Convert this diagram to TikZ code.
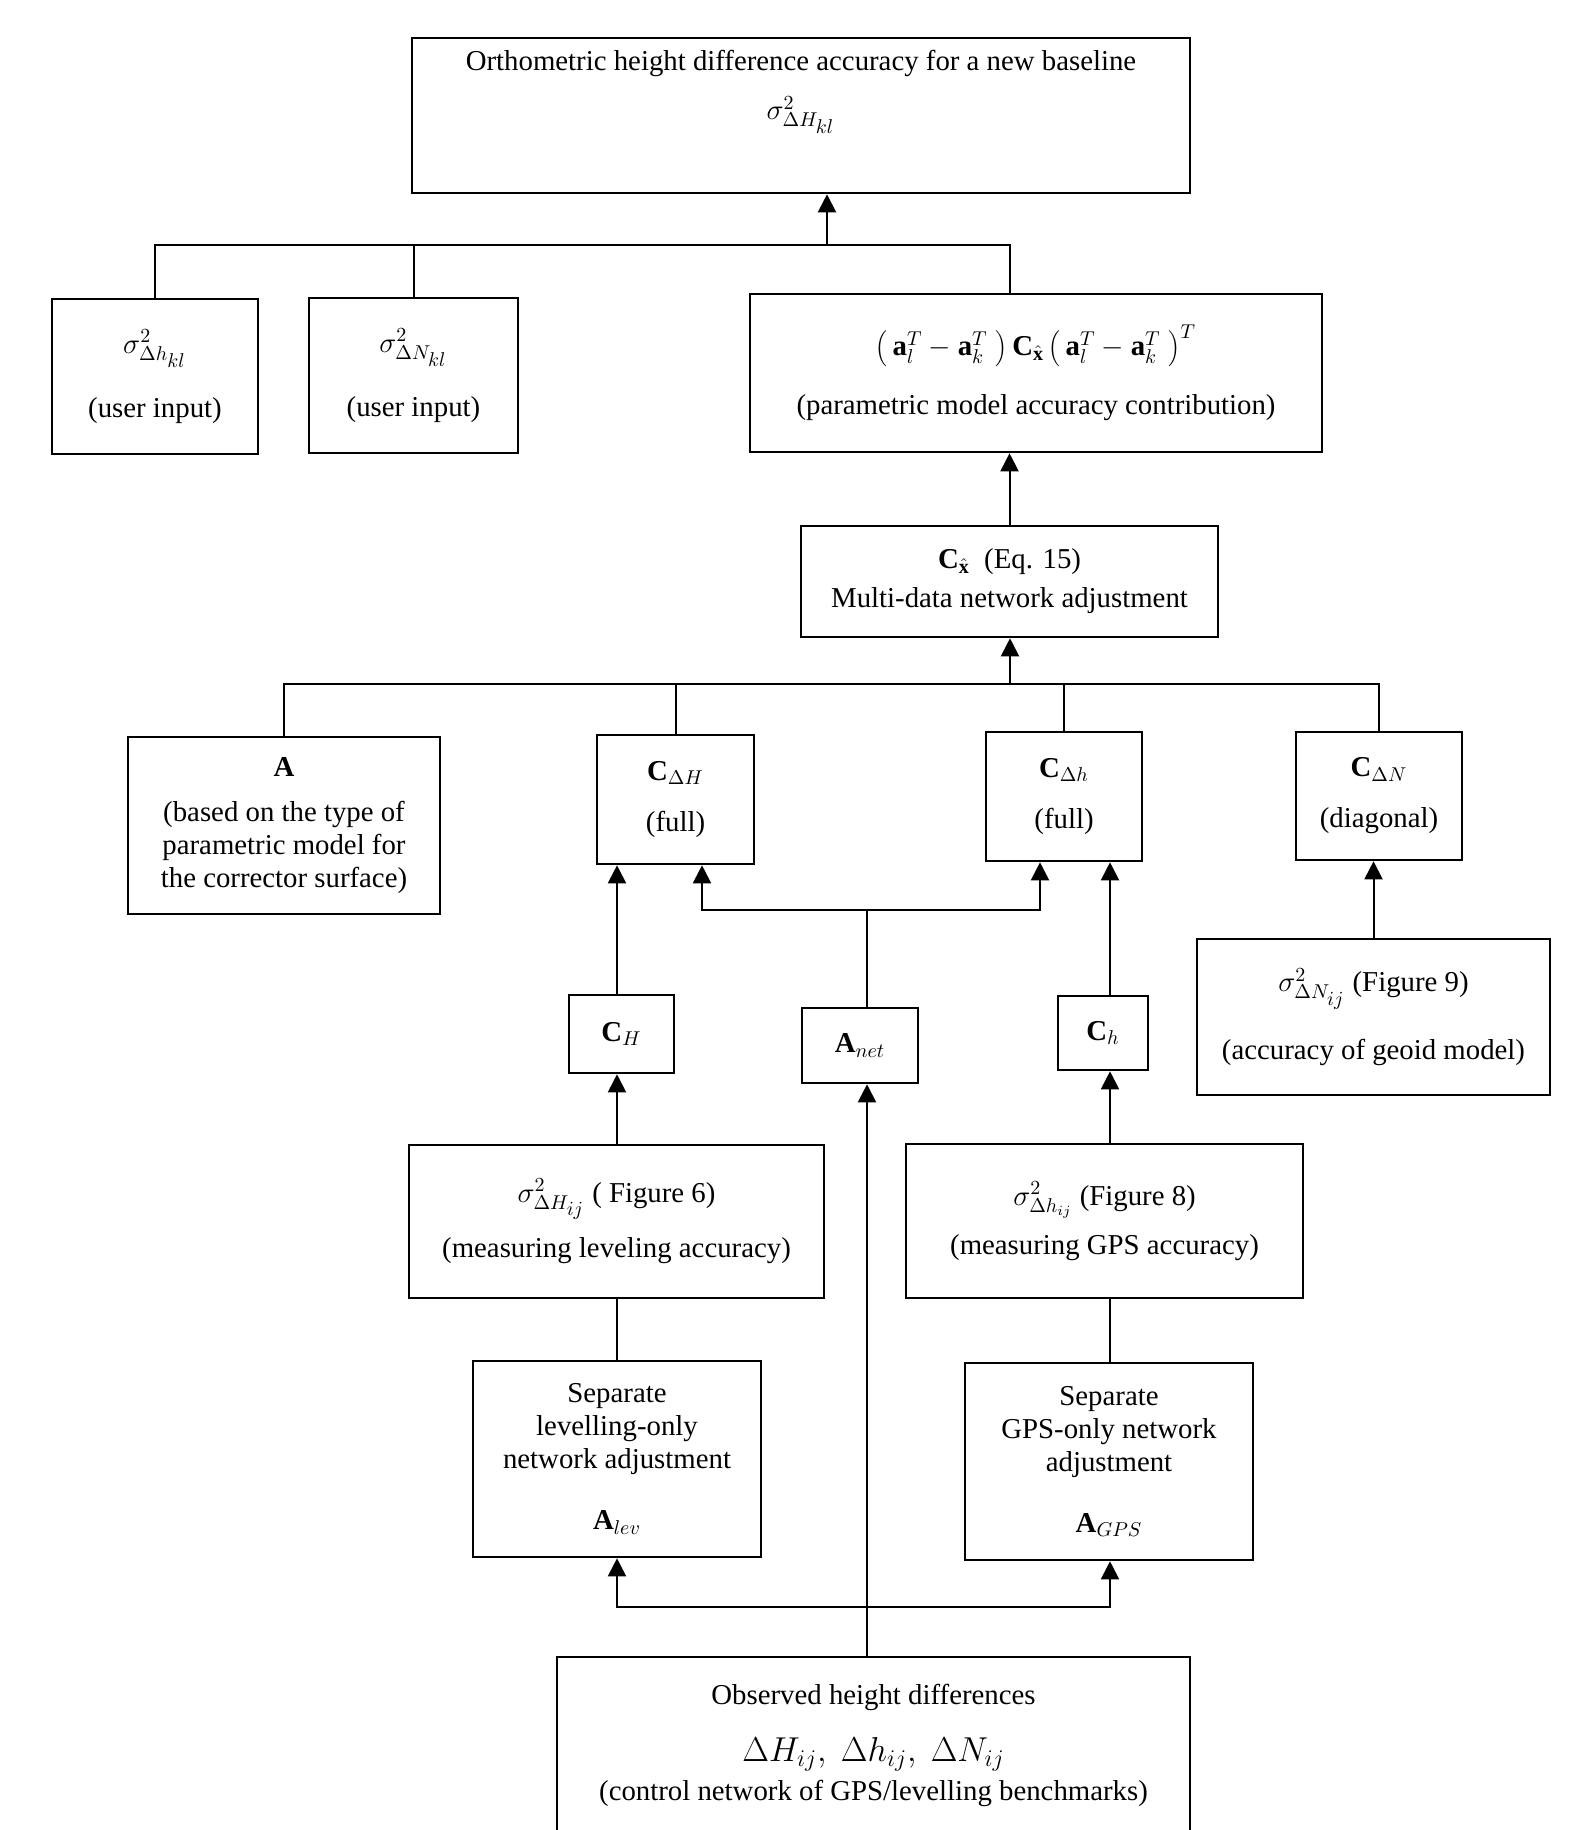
\documentclass[tikz,border=0pt]{standalone}
\usepackage{fontspec}
\setmainfont{Liberation Serif}
\usetikzlibrary{arrows.meta}

\begin{document}
\begin{tikzpicture}[x=0.5pt, y=-0.5pt, >={Triangle[length=9pt,width=9pt]},
  box/.style={draw, line width=1.3pt, align=center, inner sep=2pt, font=\fontsize{14.4}{16.5}\selectfont},
  txt/.style={align=center, inner sep=0pt, font=\fontsize{14.4}{16.5}\selectfont},
  every path/.style={line width=1pt}]
\useasboundingbox (0,0) rectangle (1577,1830);
%
\draw (801,115.5) node[box, minimum width=389pt, minimum height=77.5pt] (ortho) {};
\draw (801,92) node[txt] (orthotext) {Orthometric height difference accuracy for a new baseline\\[8pt]$\sigma^2_{\Delta H_{\scriptstyle kl}}$};
%
\draw (155,376.5) node[box, minimum width=103pt, minimum height=77.5pt] (sighkl) {$\sigma^2_{\Delta h_{\scriptstyle kl}}$\\[14pt](user input)};
\draw (413.5,375.5) node[box, minimum width=104.5pt, minimum height=77.5pt] (signkl) {$\sigma^2_{\Delta N_{\scriptstyle kl}}$\\[14pt](user input)};
\draw (1036,373) node[box, minimum width=286pt, minimum height=79pt] (param) {$\left(\,\mathbf{a}_l^T - \mathbf{a}_k^T\;\right)\mathbf{C}_{\hat{\mathbf{x}}}\left(\,\mathbf{a}_l^T - \mathbf{a}_k^T\;\right)^T$\\[13pt](parametric model accuracy contribution)};
%
\draw (1009.5,581.5) node[box, minimum width=208.5pt, minimum height=55.5pt] (cxhat) {$\mathbf{C}_{\hat{\mathbf{x}}}$\ \ (Eq. 15)\\[3pt]Multi-data network adjustment};
%
\draw (284,825.5) node[box, minimum width=156pt, minimum height=88.5pt] (amodel) {$\mathbf{A}$\\[6pt](based on the type of\\parametric model for\\the corrector surface)};
\draw (675.5,799.5) node[box, minimum width=78.5pt, minimum height=64.5pt] (cdH) {$\mathbf{C}_{\Delta H}$\\[9pt](full)};
\draw (1064,796.5) node[box, minimum width=78pt, minimum height=64.5pt] (cdh) {$\mathbf{C}_{\Delta h}$\\[9pt](full)};
\draw (1379,796) node[box, minimum width=83pt, minimum height=64pt] (cdN) {$\mathbf{C}_{\Delta N}$\\[9pt](diagonal)};
%
\draw (621.5,1034) node[box, minimum width=52.5pt, minimum height=39pt] (cH) {$\mathbf{C}_H$};
\draw (860,1045.5) node[box, minimum width=58pt, minimum height=37.5pt] (anet) {$\mathbf{A}_{net}$};
\draw (1103,1033) node[box, minimum width=45pt, minimum height=37pt] (ch) {$\mathbf{C}_h$};
\draw (1373.5,1017) node[box, minimum width=176.5pt, minimum height=78pt] (signij) {$\sigma^2_{\Delta N_{\scriptstyle ij}}$ (Figure 9)\\[14pt](accuracy of geoid model)};
%
\draw (616.5,1221.5) node[box, minimum width=207.5pt, minimum height=76.5pt] (sigHij) {$\sigma^2_{\Delta H_{\scriptstyle ij}}$ ( Figure 6)\\[8pt](measuring leveling accuracy)};
\draw (1104.5,1221) node[box, minimum width=198.5pt, minimum height=77pt] (sighij) {$\sigma^2_{\Delta h_{ij}}$ (Figure 8)\\[8pt](measuring GPS accuracy)};
%
\draw (617,1459) node[box, minimum width=144pt, minimum height=98pt] (lev) {Separate\\levelling-only\\network adjustment\\[14pt]$\mathbf{A}_{lev}$};
\draw (1109,1461.5) node[box, minimum width=144pt, minimum height=98.5pt] (gps) {Separate\\GPS-only network\\adjustment\\[14pt]$\mathbf{A}_{GPS}$};
%
\draw (873.5,1745) node[box, minimum width=316.5pt, minimum height=88pt] (obs) {Observed height differences\\[12pt]{\fontsize{17}{20}\selectfont $\Delta H_{ij},\ \Delta h_{ij},\ \Delta N_{ij}$}\\[3pt](control network of GPS/levelling benchmarks)};
%
\coordinate (jtop) at (827,245);
\coordinate (jmid) at (1010,684);
\coordinate (jnet) at (867,910);
\coordinate (jobs) at (867,1607);
\coordinate (colH) at (617,0);
\coordinate (colh) at (1110,0);
\coordinate (colHnet) at (702,0);
\coordinate (colhnet) at (1040,0);
%
\path[draw] (sighkl.north) |- (jtop) -| (param.north -| cxhat.north);
\path[draw] (signkl.north) -- (signkl.north |- jtop);
\path[draw, ->] (jtop) -- (jtop |- ortho.south);
\path[draw, ->] (cxhat.north) -- (cxhat.north |- param.south);
%
\path[draw] (amodel.north) |- (jmid) -| (cdN.north);
\path[draw] (cdH.north) -- (cdH.north |- jmid);
\path[draw] (cdh.north) -- (cdh.north |- jmid);
\path[draw, ->] (jmid) -- (jmid |- cxhat.south);
\path[draw, ->] (signij.north) -- (signij.north |- cdN.south);
%
\path[draw, ->] (cH.north -| colH) -- (cdH.south -| colH);
\path[draw, ->] (sigHij.north -| colH) -- (cH.south -| colH);
\path[draw] (sigHij.south -| colH) -- (lev.north -| colH);
\path[draw, ->] (ch.north -| colh) -- (cdh.south -| colh);
\path[draw, ->] (sighij.north -| colh) -- (ch.south -| colh);
\path[draw] (sighij.south -| colh) -- (gps.north -| colh);
%
\path[draw, ->] (anet.north -| jnet) -- (jnet) -| (cdH.south -| colHnet);
\path[draw, ->] (jnet) -| (cdh.south -| colhnet);
\path[draw, ->] (obs.north -| jobs) -- (anet.south -| jobs);
\path[draw, ->] (jobs) -| (lev.south -| colH);
\path[draw, ->] (jobs) -| (gps.south -| colh);
\end{tikzpicture}
\end{document}
